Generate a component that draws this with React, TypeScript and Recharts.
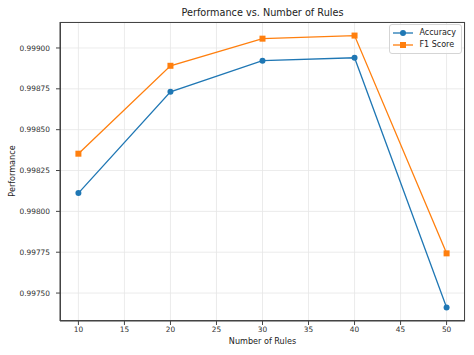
import { LineChart, Line, XAxis, YAxis, CartesianGrid } from "recharts";

const rules = [10, 20, 30, 40, 50];
const accuracy = [0.998112, 0.998732, 0.998922, 0.99894, 0.997412];
const f1Score = [0.998353, 0.998891, 0.999057, 0.999076, 0.997743];
const xTicks = [10, 15, 20, 25, 30, 35, 40, 45, 50];
const yTicks = [0.9975, 0.99775, 0.998, 0.99825, 0.9985, 0.99875, 0.999];

const data = rules.map((r, i) => ({ rules: r, accuracy: accuracy[i], f1: f1Score[i] }));

const BLUE = "#1f77b4";
const ORANGE = "#ff7f0e";
const FONT = "'DejaVu Sans', sans-serif";
const tickStyle = { fill: "#333", fontSize: 7.4, fontFamily: FONT };

// plot box, px
const PL = 60, PT = 22, PR = 465, PB = 321;

const Square = (props: any) => {
  const { cx, cy } = props;
  if (cx == null || cy == null) return null;
  return <rect x={cx - 3} y={cy - 3} width={6} height={6} fill={ORANGE} />;
};

const LegendBox = () => (
  <div
    style={{
      position: "absolute",
      top: 24,
      right: 474 - 462,
      border: "1px solid #d5d5d5",
      borderRadius: 3,
      background: "rgba(255,255,255,0.85)",
      padding: "2px 5px 2px 3px",
      fontFamily: FONT,
      fontSize: 8,
      color: "#222",
      lineHeight: "12px",
    }}
  >
    {[
      { name: "Accuracy", color: BLUE, square: false },
      { name: "F1 Score", color: ORANGE, square: true },
    ].map((it) => (
      <div key={it.name} style={{ display: "flex", alignItems: "center" }}>
        <svg width={20} height={8} style={{ marginRight: 6 }}>
          <line x1={0} y1={4} x2={20} y2={4} stroke={it.color} strokeWidth={1.3} />
          {it.square ? (
            <rect x={7} y={1} width={6} height={6} fill={it.color} />
          ) : (
            <circle cx={10} cy={4} r={3} fill={it.color} />
          )}
        </svg>
        {it.name}
      </div>
    ))}
  </div>
);

export default function App() {
  return (
    <div style={{ position: "absolute", left: 0, top: 0, width: 474, height: 355, background: "#fff" }}>
      <LineChart width={474} height={355} data={data} margin={{ top: PT, right: 474 - PR, left: 0, bottom: 0 }}>
        <CartesianGrid stroke="#e6e6e6" strokeWidth={0.8} vertical horizontal />
        <XAxis
          dataKey="rules"
          type="number"
          domain={[8, 52]}
          ticks={xTicks}
          height={355 - PB}
          tick={tickStyle}
          tickSize={4}
          tickMargin={2}
          stroke="#444"
          allowDataOverflow
        />
        <YAxis
          type="number"
          domain={[0.997329, 0.999159]}
          ticks={yTicks}
          width={PL}
          tick={tickStyle}
          tickSize={4}
          tickMargin={6}
          tickFormatter={(v: number) => v.toFixed(5)}
          stroke="#444"
          allowDataOverflow
        />
        <Line
          dataKey="accuracy"
          name="Accuracy"
          stroke={BLUE}
          strokeWidth={1.3}
          dot={{ r: 3, fill: BLUE, stroke: BLUE, strokeWidth: 0 }}
          activeDot={false}
          isAnimationActive={false}
        />
        <Line
          dataKey="f1"
          name="F1 Score"
          stroke={ORANGE}
          strokeWidth={1.3}
          dot={<Square />}
          activeDot={false}
          isAnimationActive={false}
        />
      </LineChart>
      <div
        style={{
          position: "absolute",
          left: PL,
          top: PT,
          width: PR - PL,
          height: PB - PT,
          boxSizing: "border-box",
          border: "1px solid #444",
          pointerEvents: "none",
        }}
      />
      <LegendBox />
      <div style={{ position: "absolute", left: PL, width: PR - PL, top: 6, textAlign: "center", fontFamily: FONT, fontSize: 9.7, color: "#222", lineHeight: "14px" }}>
        Performance vs. Number of Rules
      </div>
      <div style={{ position: "absolute", left: PL, width: PR - PL, top: 335, textAlign: "center", fontFamily: FONT, fontSize: 8.1, color: "#222", lineHeight: "12px" }}>
        Number of Rules
      </div>
      <div
        style={{
          position: "absolute",
          left: 12,
          top: 171,
          transform: "translate(-50%, -50%) rotate(-90deg)",
          fontFamily: FONT,
          fontSize: 8.1,
          color: "#222",
          whiteSpace: "nowrap",
          lineHeight: "12px",
        }}
      >
        Performance
      </div>
    </div>
  );
}
